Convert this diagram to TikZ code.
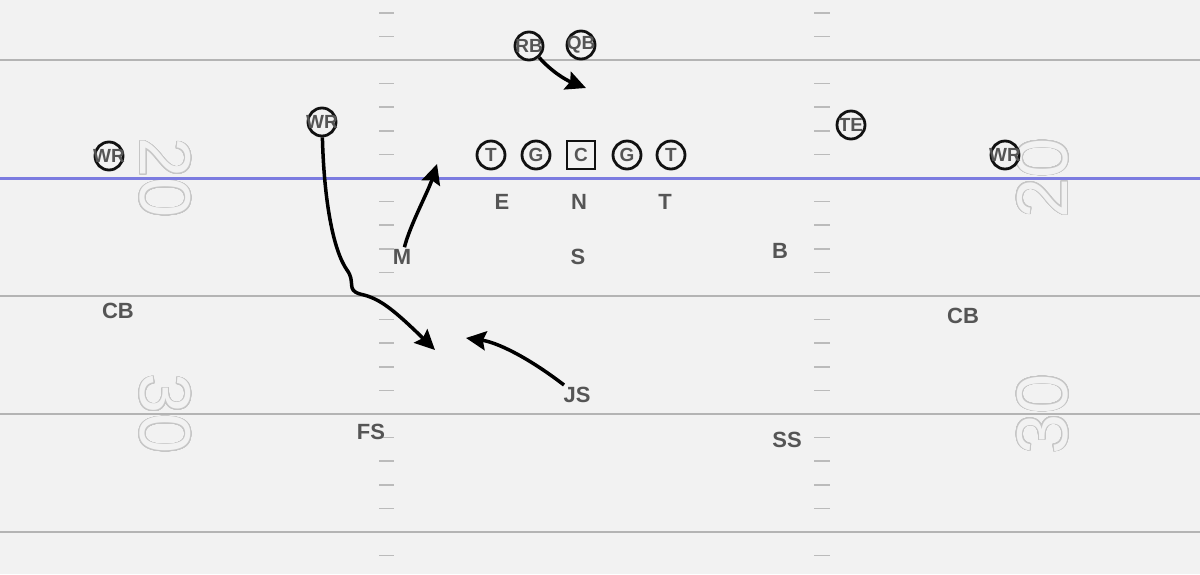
\documentclass[tikz,border=0pt]{standalone}
\usepackage{fontspec}
\setmainfont{Liberation Sans}
\usepackage{contour}
\usetikzlibrary{arrows.meta}
\definecolor{turf}{HTML}{F2F2F2}
\definecolor{yardline}{HTML}{B4B4B4}
\definecolor{hashmark}{HTML}{BBBBBB}
\definecolor{scrimmage}{HTML}{7C7CE0}
\definecolor{numline}{HTML}{C6C6C6}
\definecolor{lettering}{HTML}{555555}
\definecolor{ink}{HTML}{111111}
\contourlength{0.8pt}
\contournumber{32}
\newcommand\spot[1]{\makebox[0pt]{#1}}
\tikzset{
  player/.style={circle,draw=ink,line width=2.8pt,minimum size=28pt,inner sep=0pt,
    text=lettering,font=\bfseries\fontsize{19}{19}\selectfont},
  snapbox/.style={player,rectangle,minimum size=28pt},
  defender/.style={text=lettering,font=\bfseries\fontsize{22}{22}\selectfont,inner sep=2pt},
  route/.style={line width=3.5pt,-{Stealth[length=20pt,width=19pt,inset=3pt]}},
  yardnum/.style={text=turf,font=\fontsize{72}{72}\selectfont,inner sep=0pt}
}
\begin{document}
\begin{tikzpicture}[x=1pt,y=-1pt]
      \useasboundingbox (0,0) rectangle (1200,574);
      \fill[turf] (0,0) rectangle (1200,574);
      % yard numbers
      \node[yardnum,rotate=-90] (l20) at (165,178) {\contour{numline}{20}};
      \node[yardnum,rotate=-90] (l30) at (165,414) {\contour{numline}{30}};
      \node[yardnum,rotate=90] (r20) at (1043,178) {\contour{numline}{20}};
      \node[yardnum,rotate=90] (r30) at (1043,414) {\contour{numline}{30}};
      % yard lines and hashes
      \foreach \y in {60,296,414,532}
        \draw[yardline,line width=2pt] (0,\y) -- (1200,\y);
      \foreach \k in {-2,-1,1,2,3,4,6,7,8,9,11,12,13,14,16,17,18,19,21} {
        \draw[hashmark,line width=1.5pt] (379,60+23.6*\k) -- (394,60+23.6*\k);
        \draw[hashmark,line width=1.5pt] (814,60+23.6*\k) -- (830,60+23.6*\k);
      }
      \draw[scrimmage,line width=3pt] (0,178) -- (1200,178);
      % offense
      \draw
        (529,46) node[player] (rb){\spot{RB}}
        (581,45) node[player] (qb){\spot{QB}}
        (491,155) node[player] (lt){\spot{T}}
        (536,155) node[player] (lg){\spot{G}}
        (581,155) node[snapbox] (c){\spot{C}}
        (627,155) node[player] (rg){\spot{G}}
        (671,155) node[player] (rt){\spot{T}}
        (109,156) node[player] (wra){\spot{WR}}
        (322,122) node[player] (wrb){\spot{WR}}
        (851,125) node[player] (te){\spot{TE}}
        (1005,155) node[player] (wrc){\spot{WR}};
      % defense
      \draw
        (502,202) node[defender] (e){E}
        (579,202) node[defender] (n){N}
        (665,202) node[defender] (dt){T}
        (402,257) node[defender] (m){M}
        (578,257) node[defender] (s){S}
        (780,251) node[defender] (b){B}
        (118,311) node[defender] (cba){CB}
        (963,316) node[defender] (cbb){CB}
        (577,395) node[defender] (js){JS}
        (371,432) node[defender] (fs){FS}
        (787,440) node[defender] (ss){SS};
      % routes
      \coordinate (rbend) at (586,88);
      \coordinate (mend) at (437,164);
      \coordinate (wrend) at (435,350);
      \coordinate (jsend) at (466,338);
      \begin{scope}[route]
        \draw (rb) .. controls (552,72) and (566,80) .. (rbend);
        \draw (m) .. controls (410,225) and (428,192) .. (mend);
        \draw (wrb) .. controls (324,200) and (333,250) .. (347,270)
          .. controls (356,282) and (346,290) .. (360,294)
          .. controls (378,298) and (390,306) .. (wrend);
        \draw (js) .. controls (525,355) and (495,342) .. (jsend);
      \end{scope}
    \end{tikzpicture}
\end{document}
